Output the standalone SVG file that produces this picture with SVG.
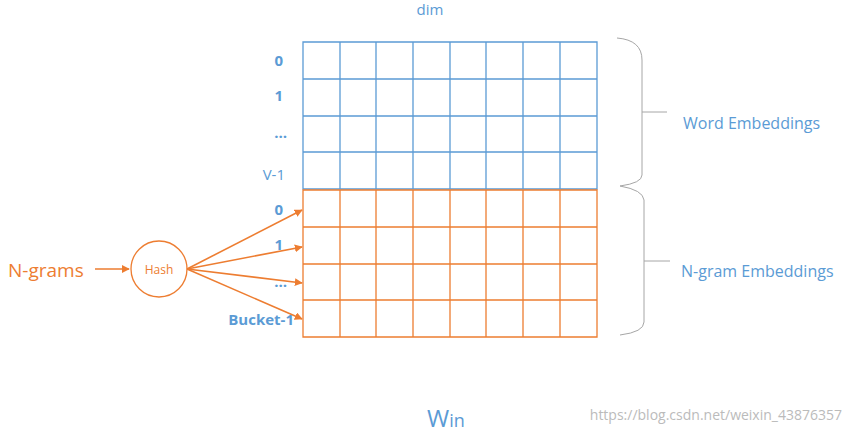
<svg xmlns="http://www.w3.org/2000/svg" width="852" height="435" viewBox="0 0 852 435">
<style>
text{font-family:"Open Sans","Liberation Sans",sans-serif}
.b{fill:#5B9BD5}.o{fill:#ED7D31}
.lab{font-weight:bold;font-size:15px;text-anchor:end}
.gb{stroke:#5B9BD5;stroke-width:1.3;fill:none}
.go{stroke:#ED7D31;stroke-width:1.3;fill:none}
.br{stroke:#A6A6A6;stroke-width:1;fill:none}
.ar{stroke:#ED7D31;stroke-width:1.6;fill:none;marker-end:url(#ah)}
</style>
<defs>
<marker id="ah" viewBox="0 0 10 10" refX="9" refY="5" markerWidth="5" markerHeight="5" orient="auto"><path d="M0,0L10,5L0,10z" fill="#ED7D31"/></marker>
</defs>
<rect width="852" height="435" fill="#fff"/>
<text x="430" y="15" class="b" font-size="15" text-anchor="middle">dim</text>
<g id="word-grid">
<path class="gb" d="M303,42H597V189H303Z M340,42V189 M376,42V189 M413,42V189 M450,42V189 M486,42V189 M523,42V189 M560,42V189 M303,79H597 M303,116H597 M303,152H597"/>
</g>
<g id="ngram-grid">
<path class="go" d="M303,190H597V337H303Z M340,190V337 M376,190V337 M413,190V337 M450,190V337 M486,190V337 M523,190V337 M560,190V337 M303,227H597 M303,264H597 M303,300H597"/>
</g>
<g id="row-labels">
<text x="283" y="66" class="b lab">0</text>
<text x="283" y="101" class="b lab">1</text>
<text x="287" y="138" class="b lab">…</text>
<text x="285" y="180" class="b" font-size="15" text-anchor="end">V-1</text>
<text x="283" y="215" class="b lab">0</text>
<text x="283" y="250" class="b lab">1</text>
<text x="287" y="287" class="b lab">…</text>
<text x="294" y="325" class="b lab">Bucket-1</text>
</g>
<g id="braces">
<path class="br" d="M617,38Q642,40 642,60V175Q642,183 620,186Q643,190 644,200V322Q644,332 620,335"/>
<path class="br" d="M642,112H667 M644,261H670"/>
</g>
<g id="word-emb"><text x="683" y="129" class="b" font-size="16">Word Embeddings</text></g>
<g id="ngram-emb"><text x="681" y="277" class="b" font-size="16">N-gram Embeddings</text></g>
<g id="ngrams"><text x="8" y="277" class="o" font-size="19">N-grams</text></g>
<g id="hash">
<circle cx="159" cy="269" r="28" fill="#fff" stroke="#ED7D31" stroke-width="1.3"/>
<text x="159" y="274" class="o" font-size="12" text-anchor="middle">Hash</text>
</g>
<g id="connectors">
<path class="ar" d="M95,269H129"/>
<path class="ar" d="M187,269L302,210"/>
<path class="ar" d="M187,269L302,247"/>
<path class="ar" d="M187,269L302,283"/>
<path class="ar" d="M187,269L302,319"/>
</g>
<g id="win"><text x="427" y="427" class="b" font-size="24">W<tspan font-size="18">in</tspan></text></g>
<text x="842" y="420" fill="#bbb" font-size="14" text-anchor="end">https://blog.csdn.net/weixin_43876357</text>
</svg>
